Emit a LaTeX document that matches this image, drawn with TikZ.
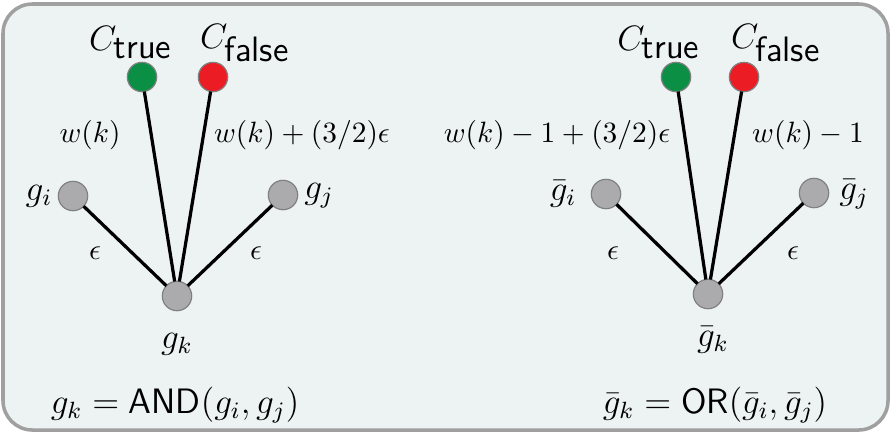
\documentclass[tikz,border=0pt]{standalone}
\usetikzlibrary{positioning, backgrounds}
\definecolor{panel}{HTML}{EDF3F3}
\definecolor{frame}{HTML}{A0A0A0}
\definecolor{ctrue}{HTML}{0A8F45}
\definecolor{cfalse}{HTML}{EC1C24}
\definecolor{gate}{HTML}{ABABAD}
\begin{document}
\begin{tikzpicture}[x=0.34pt,y=-0.34pt,
    dot/.style={circle,draw=black!50,fill=gate,minimum size=10pt,inner sep=0},
    wire/.style={line width=1.1pt},
    lbl/.style={font=\large},
    every node/.style={inner sep=0,outer sep=0}]
      \useasboundingbox (0,0) rectangle (891,433);
      \draw[frame,fill=panel,line width=1.2pt,rounded corners=10pt] (3,4) rectangle (888,430);

      % AND gadget
      \node[dot,fill=ctrue](at)at(142,77){};
      \node[dot,fill=cfalse](af)at(213,77){};
      \node[dot](ai)at(73,196){};
      \node[dot](aj)at(283,195){};
      \node[dot](ak)at(177,296){};

      \node[lbl]at(131,43){$C_{\textsf{true}}$};
      \node[lbl]at(245,43){$C_{\textsf{false}}$};
      \node[lbl]at(39,196){$g_i$};
      \node[lbl]at(319,196){$g_j$};
      \node[lbl]at(177,344){$g_k$};

      \draw[wire](ak)--(at);
      \draw[wire](ak)--(af);
      \draw[wire](ak)--(ai);
      \draw[wire](ak)--(aj);

      \node at(90,135){$w(k)$};
      \node at(302,135){$w(k)+(3/2)\epsilon$};
      \node at(95,253){$\epsilon$};
      \node at(256,253){$\epsilon$};
      \node at(175,405){\large $g_k=\textsf{AND}(g_i,g_j)$};

      % OR gadget
      \node[dot,fill=ctrue](ot)at(676,77){};
      \node[dot,fill=cfalse](of)at(744,77){};
      \node[dot](oi)at(606,194){};
      \node[dot](oj)at(814,193){};
      \node[dot](ok)at(708,294){};

      \node[lbl]at(659,43){$C_{\textsf{true}}$};
      \node[lbl]at(776,43){$C_{\textsf{false}}$};
      \node[lbl]at(563,194){$\bar g_i$};
      \node[lbl]at(854,194){$\bar g_j$};
      \node[lbl]at(713,340){$\bar g_k$};

      \draw[wire](ok)--(ot);
      \draw[wire](ok)--(of);
      \draw[wire](ok)--(oi);
      \draw[wire](ok)--(oj);

      \node at(557,135){$w(k)-1+(3/2)\epsilon$};
      \node at(808,135){$w(k)-1$};
      \node at(613,253){$\epsilon$};
      \node at(793,253){$\epsilon$};
      \node at(715,405){\large $\bar g_k=\textsf{OR}(\bar g_i,\bar g_j)$};
    \end{tikzpicture}
\end{document}
